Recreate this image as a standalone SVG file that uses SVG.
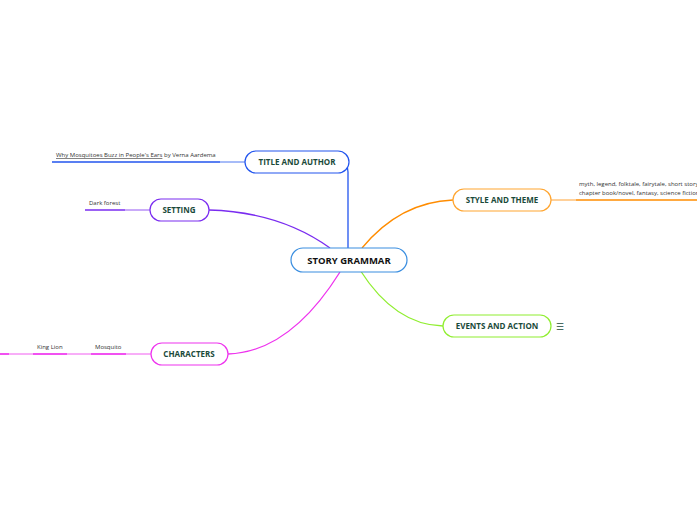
<svg xmlns="http://www.w3.org/2000/svg" width="697" height="520" viewBox="0 0 697 520">
<style>
text{font-family:"Open Sans","Noto Sans",sans-serif}
.n{font-size:8px;font-weight:bold;fill:#1a4a3a;text-anchor:middle}
.s{font-size:6px;fill:#333}
.c{fill:none;stroke-width:1.3}
</style>
<rect width="697" height="520" fill="#fff"/>
<g id="connectors">
<path class="c" stroke="#2255ee" d="M348,248 V172 Q348,162 340,162"/>
<path class="c" stroke="#7a2cf0" d="M330,248 Q280,212 209,210"/>
<path class="c" stroke="#ff8c00" d="M362,248 Q400,202 453,200"/>
<path class="c" stroke="#90ee30" d="M360,270 Q395,325 443,326"/>
<path class="c" stroke="#ee33ee" d="M340,272 Q290,352 228,354"/>
<path stroke="#2255ee" stroke-width="0.8" d="M220,162 H245"/>
<path stroke="#2255ee" stroke-width="1.5" d="M52,162 H220"/>
<path stroke="#7a2cf0" stroke-width="0.8" d="M125,210 H150"/>
<path stroke="#7a2cf0" stroke-width="1.5" d="M85,210 H125"/>
<path stroke="#ff8c00" stroke-width="0.8" d="M551,200 H576"/>
<path stroke="#ff8c00" stroke-width="1.5" d="M576,200 H697"/>
<path stroke="#ee33ee" stroke-width="0.8" d="M0,354 H151"/>
<path stroke="#ee33ee" stroke-width="1.5" d="M0,354 H9 M33,354 H67 M91,354 H126"/>
</g>
<g id="story"><rect x="291" y="248" width="116" height="24" rx="12" fill="#fff" stroke="#3a8ee0" stroke-width="1.2"/><text x="349" y="264" class="n" style="font-size:9.5px;fill:#111">STORY GRAMMAR</text></g>
<g id="title"><rect x="245" y="151" width="104" height="22" rx="11" fill="#fff" stroke="#2255ee" stroke-width="1.2"/><text x="297" y="165" class="n">TITLE AND AUTHOR</text></g>
<g id="setting"><rect x="150" y="199" width="59" height="22" rx="11" fill="#fff" stroke="#7a2cf0" stroke-width="1.2"/><text x="179" y="213" class="n">SETTING</text></g>
<g id="style"><rect x="453" y="189" width="98" height="22" rx="11" fill="#fff" stroke="#ffa530" stroke-width="1.2"/><text x="502" y="203" class="n">STYLE AND THEME</text></g>
<g id="events"><rect x="443" y="315" width="108" height="22" rx="11" fill="#fff" stroke="#90ee30" stroke-width="1.2"/><text x="497" y="329" class="n">EVENTS AND ACTION</text><text x="556" y="330" style="font-size:9px;fill:#1a4a3a">☰</text></g>
<g id="characters"><rect x="151" y="343" width="77" height="22" rx="11" fill="#fff" stroke="#ee33ee" stroke-width="1.2"/><text x="189" y="357" class="n">CHARACTERS</text></g>
<g id="leaves">
<text x="56" y="157" class="s"><tspan text-decoration="underline">Why Mosquitoes Buzz in People's Ears</tspan> by Verna Aardema</text>
<text x="89" y="205" class="s">Dark forest</text>
<text x="579" y="186" class="s">myth, legend, folktale, fairytale, short story,</text>
<text x="579" y="195" class="s">chapter book/novel, fantasy, science fiction</text>
<text x="95" y="349" class="s">Mosquito</text>
<text x="37" y="349" class="s">King Lion</text>
<text x="-4" y="349" class="s">a</text>
</g>
</svg>
